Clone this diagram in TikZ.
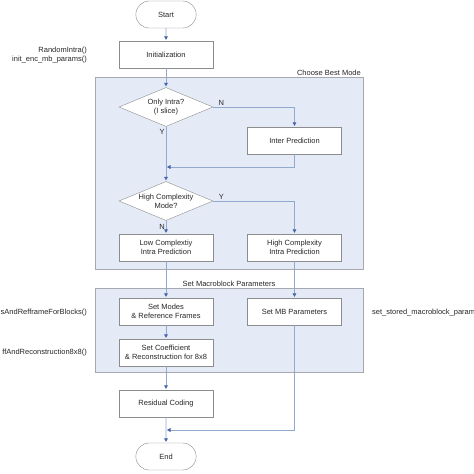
\documentclass[tikz,border=0pt]{standalone}
\usepackage{fontspec}
\setmainfont{Liberation Sans}
\usetikzlibrary{positioning, arrows.meta, shapes.geometric, shapes.misc}
\definecolor{panelfill}{RGB}{228,235,246}
\definecolor{panelline}{RGB}{165,168,175}
\definecolor{boxline}{RGB}{140,140,140}
\definecolor{flowline}{RGB}{145,168,208}
\definecolor{tipblue}{RGB}{70,100,170}
\definecolor{txt}{RGB}{40,40,40}

\tikzset{
  block/.style={draw=boxline, fill=white, minimum width=94pt, minimum height=27pt, align=center, inner sep=1pt},
  term/.style={rounded rectangle, draw=boxline, fill=white, minimum width=67pt, minimum height=27pt},
  decision/.style={diamond, draw=boxline, fill=white, minimum width=94pt, minimum height=39pt, aspect=2.4, inner sep=-1pt, align=center},
  panel/.style={draw=panelline, fill=panelfill},
  flow/.style={draw=flowline, line width=0.6pt, ->},
  fn/.style={inner sep=0pt, align=right},
  yn/.style={inner sep=1pt},
}

\begin{document}
\begin{tikzpicture}[x=1pt, y=-1pt, shorten >=1pt, node distance=40pt, on grid, auto,
    font=\fontsize{7.5}{9}\selectfont, text=txt,
    >={Triangle[length=3.5pt, width=3.8pt, color=tipblue]}]
    \useasboundingbox[fill=white] (0,0) rectangle (474,474);

    % panels
    \draw[panel] (95,77.5) rectangle (363,269);
    \draw[panel] (95,288) rectangle (363,372);
    \node[inner sep=1pt, anchor=south east] (bestLbl) at (362,77) {Choose Best Mode};
    \node[inner sep=1pt, anchor=south] (mbLbl) at (229,287.5) {Set Macroblock Parameters};

    % flow
    \node[term] (start) at (166,14.5) {Start};
    \node[block] (init) [below=40pt of start] {Initialization};
    \node[decision] (intra) [below=52.5pt of init] {Only Intra?\\(I slice)};
    \node[block] (inter) [below right=33.5pt and 128.5pt of intra] {Inter Prediction};
    \coordinate[below=60pt of intra] (merge1);
    \node[decision] (hcm) [below=94pt of intra] {High Complexity\\Mode?};
    \node[block] (low) [below=46.5pt of hcm] {Low Complextiy\\Intra Prediction};
    \node[block] (high) [right=128.5pt of low] {High Complexity\\Intra Prediction};
    \node[block] (modes) [below=64pt of low] {Set Modes\\\& Reference Frames};
    \node[block] (mbpar) [right=128.5pt of modes] {Set MB Parameters};
    \node[block] (coef) [below=41pt of modes] {Set Coefficient\\\& Reconstruction for 8x8};
    \node[block] (resid) [below=51pt of coef] {Residual Coding};
    \node[term] (end) [below=53pt of resid] {End};
    \coordinate[above=26.5pt of end] (merge2);

    % function names
    \node[fn, anchor=east] (fnInit) at (87,55.5) {RandomIntra()\\init\_enc\_mb\_params()};
    \node[fn, anchor=east] (fnModes) at (87,313) {sAndRefframeForBlocks()};
    \node[fn, anchor=east] (fnCoef) at (87,353) {ffAndReconstruction8x8()};
    \node[fn, anchor=west] (fnStored) at (372,312.5) {set\_stored\_macroblock\_param};

    \path (start) edge[flow] (init)
          (init) edge[flow] (intra)
          (intra) edge[flow] node[yn, pos=0.1, left] {Y} (hcm)
          (hcm) edge[flow] node[yn, pos=0.45, left] {N} (low)
          (low) edge[flow] (modes)
          (high) edge[flow] (mbpar)
          (modes) edge[flow] (coef)
          (coef) edge[flow] (resid)
          (resid) edge[flow] (end);
    \draw[flow] (intra.east) -| node[yn, pos=0.05, above] {N} (inter);
    \draw[flow] (inter) |- (merge1);
    \draw[flow] (hcm.east) -| node[yn, pos=0.05, above] {Y} (high);
    \draw[flow] (mbpar) |- (merge2);
\end{tikzpicture}
\end{document}
